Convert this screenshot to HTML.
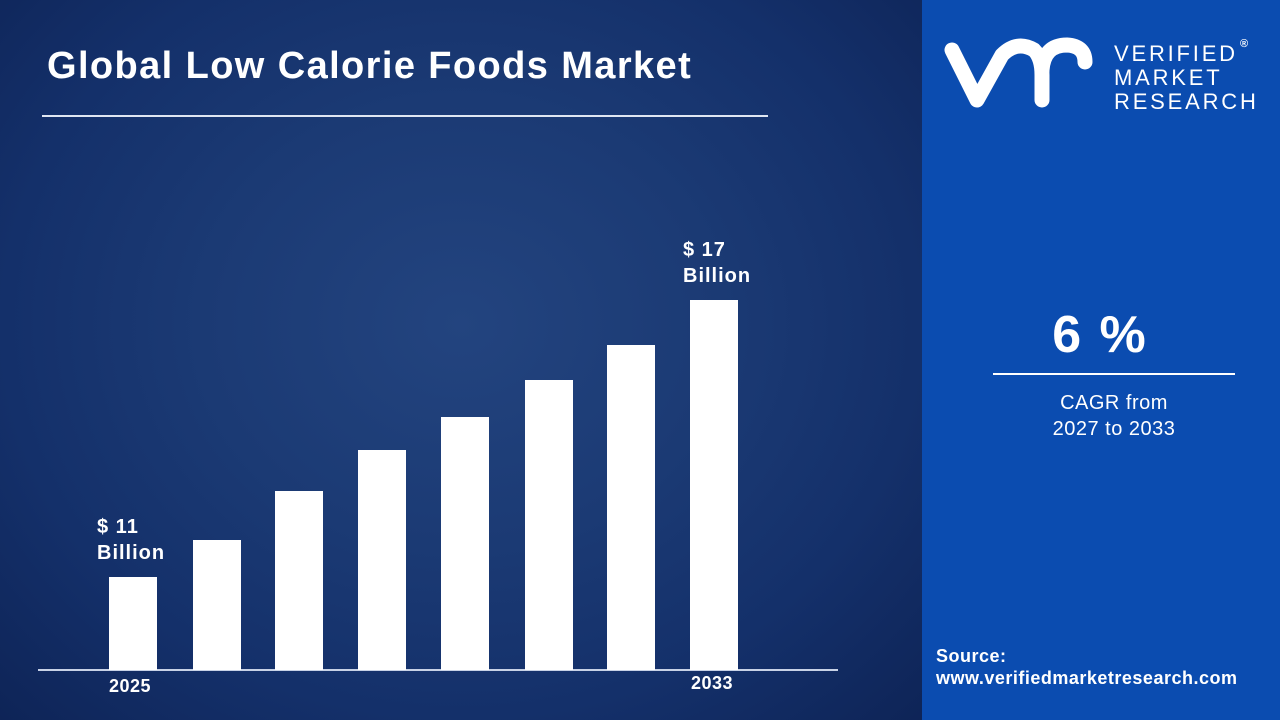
<!DOCTYPE html>
<html><head><meta charset="utf-8"><style>
body{margin:0;width:1280px;height:720px;overflow:hidden;font-family:"Liberation Sans",sans-serif;}
#l{position:absolute;left:0;top:0;width:922px;height:720px;background:radial-gradient(ellipse at 50% 45%,#23447f 0%,#1b3a74 40%,#14306a 70%,#0e2457 100%);}
#r{position:absolute;left:922px;top:0;width:358px;height:720px;background:#0b4cb0;}
.t{position:absolute;color:#fff;font-weight:bold;}
.b{position:absolute;background:#fff;width:48px;bottom:50px;}
</style></head><body>
<div id="l">
<div class="t" style="left:47px;top:45px;font-size:38px;letter-spacing:1.4px;">Global Low Calorie Foods Market</div>
<div style="position:absolute;left:42px;top:115px;width:726px;height:2px;background:#dfe6f2"></div>
<div style="position:absolute;left:38px;top:669px;width:800px;height:2px;background:#c8d2e6"></div>
<div class="b" style="left:109px;height:93px"></div>
<div class="b" style="left:193px;height:130px"></div>
<div class="b" style="left:275px;height:179px"></div>
<div class="b" style="left:358px;height:220px"></div>
<div class="b" style="left:441px;height:253px"></div>
<div class="b" style="left:525px;height:290px"></div>
<div class="b" style="left:607px;height:325px"></div>
<div class="b" style="left:690px;height:370px"></div>
<div class="t" style="left:97px;top:514px;font-size:20px;line-height:26px;letter-spacing:1px">$ 11<br>Billion</div>
<div class="t" style="left:683px;top:237px;font-size:20px;line-height:26px;letter-spacing:1px">$ 17<br>Billion</div>
<div class="t" style="left:109px;top:676px;font-size:18px;letter-spacing:0.5px">2025</div>
<div class="t" style="left:691px;top:673px;font-size:18px;letter-spacing:0.5px">2033</div>
</div>
<div id="r">
<svg style="position:absolute;left:0;top:0" width="190" height="130">
<g fill="none" stroke="#fff" stroke-width="15" stroke-linecap="round" stroke-linejoin="round">
<path d="M30 50 L55 100 L80 55 Q95 40 112 50 Q120 58 120 75 L120 100"/>
<path d="M120 70 Q122 45 145 45 Q163 46 163 62"/>
</g>
</svg>
<div class="t" style="left:192px;top:42px;font-size:22px;line-height:24px;letter-spacing:2.8px;font-weight:normal">VERIFIED<br>MARKET<br>RESEARCH</div>
<div class="t" style="left:318px;top:38px;font-size:11px;">®</div>
<div class="t" style="left:0;width:356px;text-align:center;top:305px;font-size:52px;letter-spacing:2px">6 %</div>
<div style="position:absolute;left:71px;top:373px;width:242px;height:2px;background:#fff"></div>
<div class="t" style="left:0;width:384px;text-align:center;top:390px;font-size:20px;line-height:26px;font-weight:normal;letter-spacing:0.5px">CAGR from<br>2027 to 2033</div>
<div class="t" style="left:14px;top:645px;font-size:18px;line-height:22px;letter-spacing:0.5px">Source:<br>www.verifiedmarketresearch.com</div>
</div>
</body></html>
